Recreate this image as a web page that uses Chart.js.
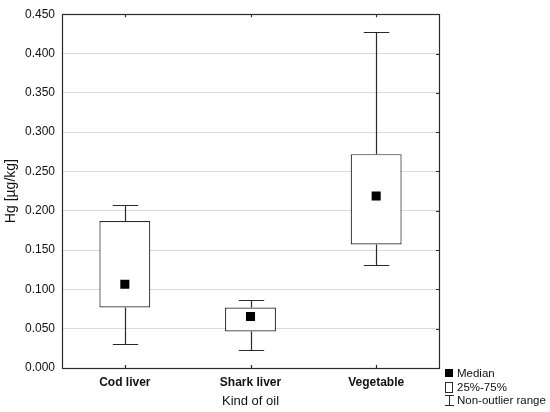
<!DOCTYPE html>
<html>
<head>
<meta charset="utf-8">
<script src="https://cdn.jsdelivr.net/npm/chart.js@4"></script>
<style>
  html, body { margin: 0; padding: 0; background: #fff; }
  #wrap { width: 550px; height: 412px; position: relative; }
</style>
</head>
<body>
<div id="wrap"><canvas id="chart"></canvas></div>
<script>
const categories = ["Cod liver", "Shark liver", "Vegetable"];
const whiskerLow = [0.030, 0.0235, 0.131];
const q1 = [0.077, 0.0465, 0.157];
const median = [0.1065, 0.0654, 0.2187];
const q3 = [0.187, 0.077, 0.272];
const whiskerHigh = [0.207, 0.0867, 0.427];
const legendItems = ["Median", "25%-75%", "Non-outlier range"];

const FONT = "'Liberation Sans', Arial, sans-serif";
const INK = "#2a2a2a";

// whiskers, frame, inner tick marks and the legend box
const boxExtras = {
  id: "boxExtras",
  beforeDatasetsDraw(chart) {
    const { ctx, scales: { x, y } } = chart;
    const bars = chart.getDatasetMeta(0).data;
    ctx.save();
    ctx.strokeStyle = INK;
    ctx.lineWidth = 1.2;
    categories.forEach((c, i) => {
      const cx = Math.round(x.getPixelForValue(i)) + 0.5;
      const half = bars[i].width * 0.25;
      const lo = Math.round(y.getPixelForValue(whiskerLow[i])) + 0.5;
      const hi = Math.round(y.getPixelForValue(whiskerHigh[i])) + 0.5;
      ctx.beginPath();
      ctx.moveTo(cx, y.getPixelForValue(q1[i]));
      ctx.lineTo(cx, lo);
      ctx.moveTo(cx - half, lo);
      ctx.lineTo(cx + half, lo);
      ctx.moveTo(cx, y.getPixelForValue(q3[i]));
      ctx.lineTo(cx, hi);
      ctx.moveTo(cx - half, hi);
      ctx.lineTo(cx + half, hi);
      ctx.stroke();
    });
    ctx.restore();
  },
  afterDraw(chart) {
    const { ctx, chartArea: a, scales: { x, y } } = chart;
    ctx.save();
    ctx.strokeStyle = INK;
    ctx.lineWidth = 1.2;
    ctx.strokeRect(Math.round(a.left) + 0.5, Math.round(a.top) + 0.5,
      Math.round(a.right - a.left), Math.round(a.bottom - a.top));

    ctx.beginPath();
    y.ticks.forEach((t) => {
      const py = Math.round(y.getPixelForValue(t.value)) + 0.5;
      ctx.moveTo(a.right - 3, py);
      ctx.lineTo(a.right, py);
    });
    categories.forEach((c, i) => {
      const px = Math.round(x.getPixelForValue(i)) + 0.5;
      ctx.moveTo(px, a.top);
      ctx.lineTo(px, a.top + 3);
      ctx.moveTo(px, a.bottom);
      ctx.lineTo(px, a.bottom - 3);
    });
    ctx.stroke();

    // legend
    ctx.lineWidth = 1;
    const lx = a.right + 5;
    const rows = [a.bottom + 5, a.bottom + 19, a.bottom + 32];
    ctx.fillStyle = "#000";
    ctx.fillRect(lx + 1, rows[0] - 4, 8, 8);
    ctx.strokeRect(lx + 1.5, rows[1] - 4.5, 7, 10);
    ctx.beginPath();
    ctx.moveTo(lx + 5.5, rows[2] - 5);
    ctx.lineTo(lx + 5.5, rows[2] + 6);
    ctx.moveTo(lx + 1, rows[2] - 4.5);
    ctx.lineTo(lx + 10, rows[2] - 4.5);
    ctx.moveTo(lx + 1, rows[2] + 5.5);
    ctx.lineTo(lx + 10, rows[2] + 5.5);
    ctx.stroke();
    ctx.fillStyle = "#111";
    ctx.font = "11.5px " + FONT;
    ctx.textBaseline = "middle";
    legendItems.forEach((label, i) => ctx.fillText(label, lx + 13, rows[i] + 1));
    ctx.restore();
  },
};

new Chart(document.getElementById("chart"), {
  data: {
    labels: categories,
    datasets: [
      {
        type: "bar",
        label: "25%-75%",
        data: categories.map((c, i) => [q1[i], q3[i]]),
        backgroundColor: "#fff",
        borderColor: INK,
        borderWidth: 1.2,
        borderSkipped: false,
        categoryPercentage: 1,
        barPercentage: 0.405,
        order: 2,
      },
      {
        type: "line",
        label: "Median",
        data: median,
        showLine: false,
        pointStyle: "rect",
        pointRadius: 6.4,
        pointBackgroundColor: "#000",
        pointBorderWidth: 0,
        order: 1,
      },
    ],
  },
  options: {
    responsive: true,
    maintainAspectRatio: false,
    animation: false,
    layout: { padding: { top: 10, right: 111, left: 0, bottom: 0 } },
    plugins: { legend: { display: false }, tooltip: { enabled: false } },
    scales: {
      x: {
        grid: { display: false, drawTicks: false },
        border: { display: false },
        ticks: { color: "#111", padding: 7, font: { family: FONT, size: 12, weight: "bold" } },
        title: {
          display: true,
          text: "Kind of oil",
          color: "#111",
          padding: { top: 0, bottom: 3 },
          font: { family: FONT, size: 13 },
        },
        afterFit(scale) { scale.height = 44; },
      },
      y: {
        min: 0,
        max: 0.45,
        grid: { color: "#d9d9d9", drawTicks: false },
        border: { display: false },
        ticks: {
          stepSize: 0.05,
          padding: 7,
          color: "#111",
          font: { family: FONT, size: 12 },
          callback: (v) => Number(v).toFixed(3),
        },
        title: {
          display: true,
          text: "Hg [µg/kg]",
          color: "#111",
          padding: { top: 3, bottom: 0 },
          font: { family: FONT, size: 14 },
        },
        afterFit(scale) { scale.width = 62; },
      },
    },
  },
  plugins: [boxExtras],
});
</script>
</body>
</html>
